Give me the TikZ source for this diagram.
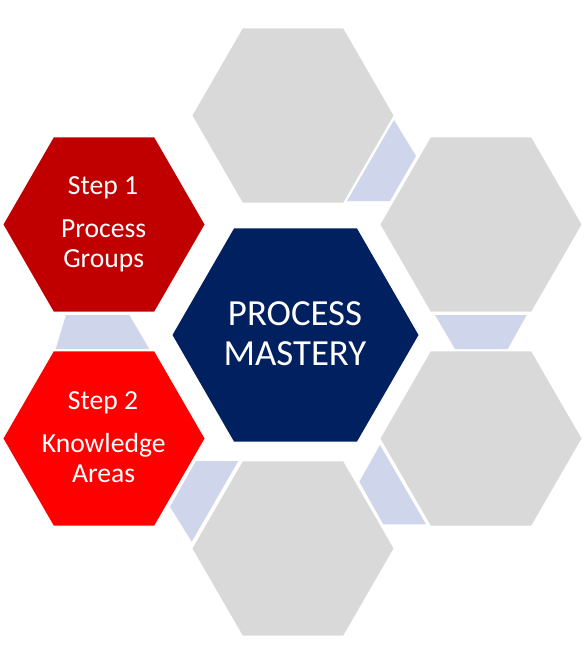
\documentclass[tikz,border=0pt]{standalone}
\usepackage{fontspec}
\setmainfont{Carlito}
\usetikzlibrary{shapes.geometric}
\definecolor{navyblue}{HTML}{002060}
\definecolor{darkred}{HTML}{C00000}
\definecolor{brightred}{HTML}{FF0000}
\definecolor{hexgray}{HTML}{D9D9D9}
\definecolor{connblue}{HTML}{CFD5EA}
\begin{document}
\begin{tikzpicture}[x=1pt,y=-1pt,
  hexbox/.style={regular polygon, regular polygon sides=6, inner sep=0pt, outer sep=0pt, draw=none},
  outerhex/.style={hexbox, minimum size=201pt},
  centerhex/.style={hexbox, minimum size=246pt, fill=navyblue},
  conn/.style={fill=connblue},
  steptext/.style={text=white, font=\fontsize{27.6}{30}\selectfont, inner sep=0pt, anchor=base},
  maintext/.style={text=white, font=\fontsize{36.8}{40}\selectfont, inner sep=0pt, anchor=base}]
\fill[white] (0,0) rectangle (585,663);
\useasboundingbox (0,0) rectangle (585,663);
% connectors
\fill[conn] (394,120) -- (416,156) -- (390,201) -- (347,201) -- cycle;
\fill[conn] (66,315) -- (129.3,315) -- (149.3,349) -- (55.7,349) -- cycle;
\fill[conn] (435,315) -- (526.7,315) -- (507.7,349) -- (455,349) -- cycle;
\fill[conn] (380,445) -- (359.3,481.7) -- (383.3,524.3) -- (426,524.3) -- cycle;
\fill[conn] (196,461) -- (238.3,461) -- (191.7,541.7) -- (170,506.7) -- cycle;
% hexagons
\node[centerhex] (center) at (295.5,335) {};
\node[outerhex, fill=hexgray] (top) at (293,115.5) {};
\node[outerhex, fill=hexgray] (ur) at (481,224.5) {};
\node[outerhex, fill=hexgray] (lr) at (481,438.5) {};
\node[outerhex, fill=hexgray] (bottom) at (293,548.5) {};
\node[outerhex, fill=darkred] (step1) at (104,224.5) {};
\node[outerhex, fill=brightred] (step2) at (104,438.5) {};
% texts
\node[steptext] (s1a) at (103,194.3) {Step 1};
\node[steptext] (s1b) at (103.7,237.3) {Process};
\node[steptext] (s1c) at (103.7,267.7) {Groups};
\node[steptext] (s2a) at (103,409.3) {Step 2};
\node[steptext] (s2b) at (103.7,452.3) {Knowledge};
\node[steptext] (s2c) at (103.7,482.7) {Areas};
\node[maintext] (m1) at (295,325) {PROCESS};
\node[maintext] (m2) at (295,365) {MASTERY};
\end{tikzpicture}
\end{document}
